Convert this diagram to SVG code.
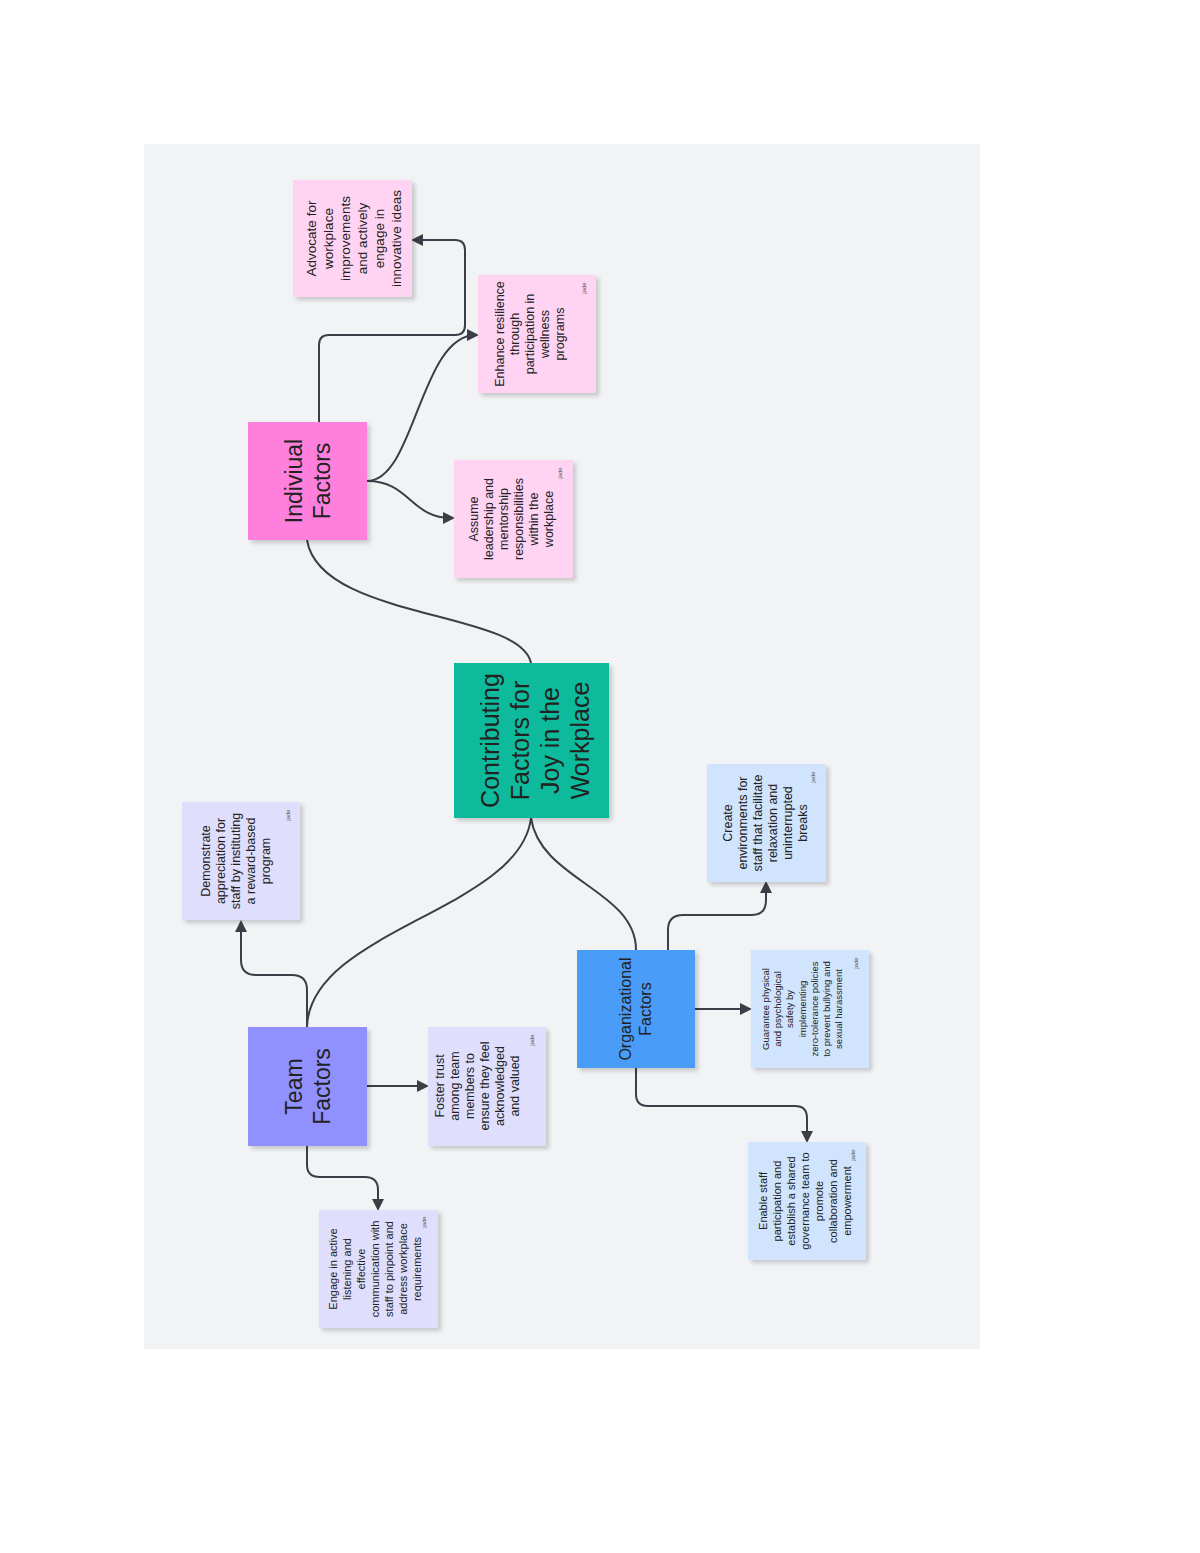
<svg xmlns="http://www.w3.org/2000/svg" width="1200" height="1553" viewBox="0 0 1200 1553">
<defs>
<marker id="ar" markerWidth="12" markerHeight="12" refX="9" refY="6" orient="auto" markerUnits="userSpaceOnUse" viewBox="0 0 12 12"><path d="M0,0 L12,6 L0,12 z" fill="#3a3f47"/></marker>
<filter id="sh" x="-10%" y="-10%" width="130%" height="130%"><feDropShadow dx="3" dy="3" stdDeviation="2" flood-color="#000" flood-opacity="0.18"/></filter>
</defs>
<style>
text{font-family:"Liberation Sans",Arial,sans-serif;fill:#222;text-anchor:middle}
.c{fill:none;stroke:#3a3f47;stroke-width:2}
.a{marker-end:url(#ar)}
.n{font-size:12.5px}
.j{font-size:6px;fill:#555}
</style>
<rect width="1200" height="1553" fill="#fff"/>
<rect x="144" y="144" width="836" height="1205" fill="#f2f3f5"/>
<g id="connectors">
<path class="c" d="M531,663 C520,610 320,620 307,540"/>
<path class="c a" d="M367,481 C415,481 420,335 476,335"/>
<path class="c a" d="M367,481 C410,481 410,518 452,518"/>
<path class="c a" d="M319,422 V345 Q319,335 329,335 H455 Q465,335 465,325 V250 Q465,240 455,240 H414"/>
<path class="c" d="M531,818 C520,910 310,930 307,1027"/>
<path class="c" d="M531,818 C540,880 636,890 636,950"/>
<path class="c a" d="M307,1027 V990 Q307,975 292,975 H256 Q241,975 241,960 V923"/>
<path class="c a" d="M367,1086 H426"/>
<path class="c a" d="M307,1146 V1165 Q307,1177 320,1177 H365 Q378,1177 378,1190 V1208"/>
<path class="c a" d="M668,950 V930 Q668,915 683,915 H752 Q766,915 766,900 V884"/>
<path class="c a" d="M695,1009 H749"/>
<path class="c a" d="M636,1068 V1094 Q636,1106 648,1106 H795 Q807,1106 807,1118 V1140"/>
</g>
<g id="central"><rect x="454" y="663" width="155" height="155" fill="#10bb9c" filter="url(#sh)"/>
<text transform="rotate(-90 531.5 740.5)" x="531.5" y="740.5" font-size="25"><tspan x="531.5" dy="-33">Contributing</tspan><tspan x="531.5" dy="30">Factors for</tspan><tspan x="531.5" dy="30">Joy in the</tspan><tspan x="531.5" dy="30">Workplace</tspan></text></g>
<g id="individual"><rect x="248" y="422" width="119" height="118" fill="#ff80dc" filter="url(#sh)"/>
<text transform="rotate(-90 307.5 481)" x="307.5" y="481" font-size="23"><tspan x="307.5" dy="-6">Indiviual</tspan><tspan x="307.5" dy="28">Factors</tspan></text></g>
<g id="team"><rect x="248" y="1027" width="119" height="119" fill="#9090ff" filter="url(#sh)"/>
<text transform="rotate(-90 307.5 1086.5)" x="307.5" y="1086.5" font-size="23"><tspan x="307.5" dy="-6">Team</tspan><tspan x="307.5" dy="28">Factors</tspan></text></g>
<g id="org"><rect x="577" y="950" width="118" height="118" fill="#4a9cf7" filter="url(#sh)"/>
<text transform="rotate(-90 636 1009)" x="636" y="1009" font-size="16"><tspan x="636" dy="-5">Organizational</tspan><tspan x="636" dy="20">Factors</tspan></text></g>

<g id="advocate"><rect x="293" y="180" width="119" height="117" fill="#ffd3f2" filter="url(#sh)"/>
<text transform="rotate(-90 352.5 238.5)" x="352.5" y="238.5" font-size="13.5"><tspan x="352.5" dy="-37">Advocate for</tspan><tspan x="352.5" dy="17">workplace</tspan><tspan x="352.5" dy="17">improvements</tspan><tspan x="352.5" dy="17">and actively</tspan><tspan x="352.5" dy="17">engage in</tspan><tspan x="352.5" dy="17">innovative ideas</tspan></text></g>
<g id="enhance"><rect x="478" y="275" width="118" height="118" fill="#ffd3f2" filter="url(#sh)"/>
<text class="n" transform="rotate(-90 532 334)" x="532" y="334"><tspan x="532" dy="-28">Enhance resilience</tspan><tspan x="532" dy="15">through</tspan><tspan x="532" dy="15">participation in</tspan><tspan x="532" dy="15">wellness</tspan><tspan x="532" dy="15">programs</tspan></text>
<text class="j" transform="rotate(-90 584 288)" x="584" y="290">jade</text></g>
<g id="assume"><rect x="454" y="460" width="119" height="118" fill="#ffd3f2" filter="url(#sh)"/>
<text class="n" transform="rotate(-90 508 519)" x="508" y="519"><tspan x="508" dy="-30">Assume</tspan><tspan x="508" dy="15">leadership and</tspan><tspan x="508" dy="15">mentorship</tspan><tspan x="508" dy="15">responsibilities</tspan><tspan x="508" dy="15">within the</tspan><tspan x="508" dy="15">workplace</tspan></text>
<text class="j" transform="rotate(-90 560 473)" x="560" y="475">jade</text></g>
<g id="demonstrate"><rect x="182" y="802" width="118" height="118" fill="#dfdffd" filter="url(#sh)"/>
<text class="n" transform="rotate(-90 234 861)" x="234" y="861"><tspan x="234" dy="-24">Demonstrate</tspan><tspan x="234" dy="15">appreciation for</tspan><tspan x="234" dy="15">staff by instituting</tspan><tspan x="234" dy="15">a reward-based</tspan><tspan x="234" dy="15">program</tspan></text>
<text class="j" transform="rotate(-90 288 815)" x="288" y="817">jade</text></g>
<g id="foster"><rect x="428" y="1027" width="118" height="119" fill="#dfdffd" filter="url(#sh)"/>
<text class="n" transform="rotate(-90 482 1086)" x="482" y="1086"><tspan x="482" dy="-38">Foster trust</tspan><tspan x="482" dy="15">among team</tspan><tspan x="482" dy="15">members to</tspan><tspan x="482" dy="15">ensure they feel</tspan><tspan x="482" dy="15">acknowledged</tspan><tspan x="482" dy="15">and valued</tspan></text>
<text class="j" transform="rotate(-90 532 1040)" x="532" y="1042">jade</text></g>
<g id="engage"><rect x="319" y="1210" width="119" height="118" fill="#dfdffd" filter="url(#sh)"/>
<text transform="rotate(-90 375 1269)" x="375" y="1269" font-size="11"><tspan x="375" dy="-38">Engage in active</tspan><tspan x="375" dy="14">listening and</tspan><tspan x="375" dy="14">effective</tspan><tspan x="375" dy="14">communication with</tspan><tspan x="375" dy="14">staff to pinpoint and</tspan><tspan x="375" dy="14">address workplace</tspan><tspan x="375" dy="14">requirements</tspan></text>
<text class="j" transform="rotate(-90 424 1222)" x="424" y="1224">jade</text></g>
<g id="create"><rect x="707" y="764" width="119" height="118" fill="#d1e4fd" filter="url(#sh)"/>
<text class="n" transform="rotate(-90 762 823)" x="762" y="823"><tspan x="762" dy="-30">Create</tspan><tspan x="762" dy="15">environments for</tspan><tspan x="762" dy="15">staff that facilitate</tspan><tspan x="762" dy="15">relaxation and</tspan><tspan x="762" dy="15">uninterrupted</tspan><tspan x="762" dy="15">breaks</tspan></text>
<text class="j" transform="rotate(-90 813 777)" x="813" y="779">jade</text></g>
<g id="guarantee"><rect x="751" y="950" width="118" height="118" fill="#d1e4fd" filter="url(#sh)"/>
<text transform="rotate(-90 805 1009)" x="805" y="1009" font-size="9.5"><tspan x="805" dy="-36">Guarantee physical</tspan><tspan x="805" dy="12.2">and psychological</tspan><tspan x="805" dy="12.2">safety by</tspan><tspan x="805" dy="12.2">implementing</tspan><tspan x="805" dy="12.2">zero-tolerance policies</tspan><tspan x="805" dy="12.2">to prevent bullying and</tspan><tspan x="805" dy="12.2">sexual harassment</tspan></text>
<text class="j" transform="rotate(-90 856 963)" x="856" y="965">jade</text></g>
<g id="enable"><rect x="748" y="1142" width="118" height="118" fill="#d1e4fd" filter="url(#sh)"/>
<text transform="rotate(-90 805 1201)" x="805" y="1201" font-size="11"><tspan x="805" dy="-38">Enable staff</tspan><tspan x="805" dy="14">participation and</tspan><tspan x="805" dy="14">establish a shared</tspan><tspan x="805" dy="14">governance team to</tspan><tspan x="805" dy="14">promote</tspan><tspan x="805" dy="14">collaboration and</tspan><tspan x="805" dy="14">empowerment</tspan></text>
<text class="j" transform="rotate(-90 853 1155)" x="853" y="1157">jade</text></g>
</svg>
